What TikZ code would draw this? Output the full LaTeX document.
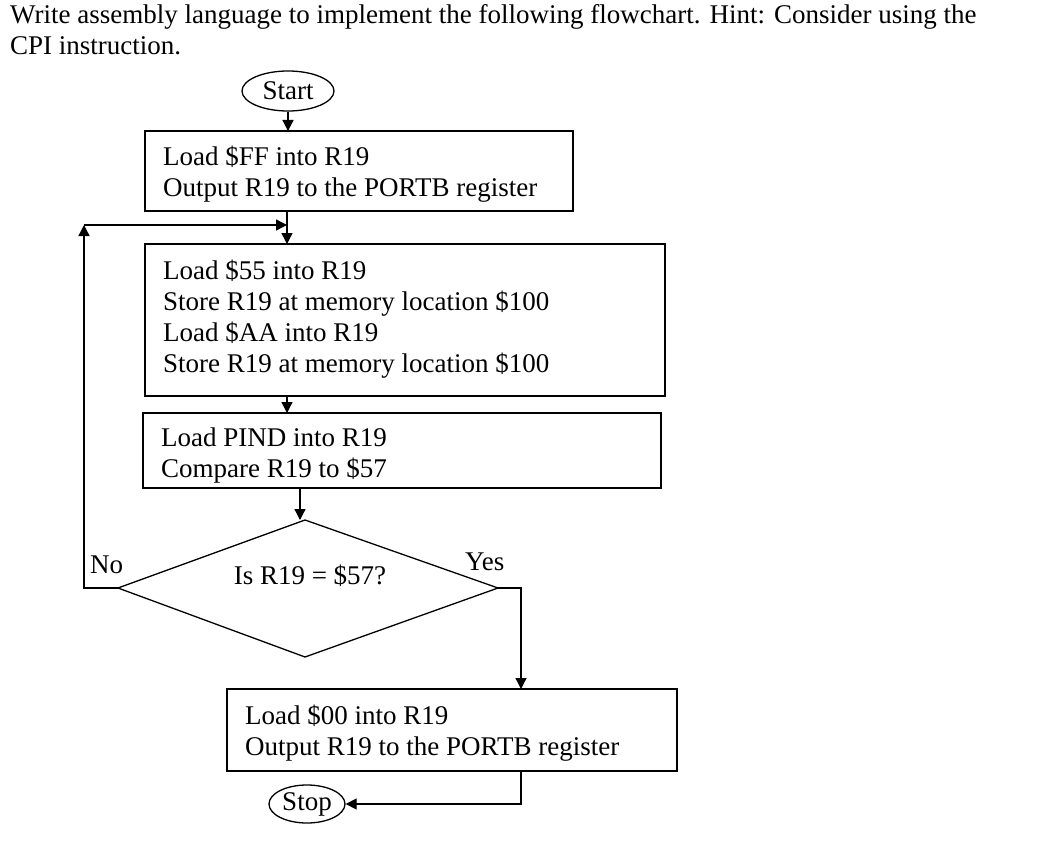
\documentclass[tikz,border=0pt]{standalone}
\usepackage{fontspec}
\setmainfont{Liberation Serif}
\usetikzlibrary{shapes.geometric,arrows.meta}
\begin{document}
\begin{tikzpicture}[x=1pt,y=-1pt,
  every node/.style={font=\fontsize{27}{31}\selectfont},
  box/.style={draw,line width=1.3pt},
  txt/.style={anchor=west,align=left,inner sep=0pt},
  arr/.style={line width=1.3pt,-{Triangle[length=11pt,width=11pt]}},
  ln/.style={line width=1.3pt}]
\useasboundingbox (0,0) rectangle (1050,864);
\node[txt,anchor=north west] (title) at (10,4) {Write assembly language to implement the following flowchart. Hint: Consider using the\\CPI instruction.};
\node[draw,ellipse,line width=1.3pt,minimum width=92,minimum height=40,inner sep=1pt] (start) at (288,91) {Start};
\draw[box] (145,131) rectangle (573,211);
\node[txt] (b1) at (163,174) {Load \$FF into R19\\Output R19 to the PORTB register};
\coordinate (b1t) at (288,131); \coordinate (b1b) at (287,211);
\draw[box] (145,244) rectangle (665,396);
\node[txt] (b2) at (163,319) {Load \$55 into R19\\Store R19 at memory location \$100\\Load \$AA into R19\\Store R19 at memory location \$100};
\coordinate (b2t) at (287,244); \coordinate (b2b) at (287,396);
\draw[box] (143,413) rectangle (661,488);
\node[txt] (b3) at (161,456) {Load PIND into R19\\Compare R19 to \$57};
\coordinate (b3t) at (287,413); \coordinate (b3b) at (300,488);
\draw[box] (305,520) -- (498,588) -- (305,657) -- (118,588) -- cycle;
\coordinate (dt) at (300,520); \coordinate (dl) at (118,588); \coordinate (dr) at (498,588);
\node (dq) at (310,576) {Is R19 = \$57?};
\draw[box] (227,689) rectangle (677,771);
\node[txt] (b4) at (245,733) {Load \$00 into R19\\Output R19 to the PORTB register};
\coordinate (b4t) at (521,689); \coordinate (b4b) at (521,771);
\node[draw,ellipse,line width=1.3pt,minimum width=76,minimum height=38,inner sep=1pt] (stop) at (307,804) {Stop};
\draw[arr] (start.south) -- (b1t);
\draw[arr] (b1b) -- (b2t);
\draw[arr] (b2b) -- (b3t);
\draw[arr] (b3b) -- (dt);
\coordinate (nl) at (84,588); \coordinate (nt) at (84,225); \coordinate (nr) at (287,225);
\draw[arr] (dl) -- (nl) -- (nt);
\draw[arr] (nt) -- (nr);
\node[txt] (no) at (90,565) {No};
\node[txt] (yes) at (465,562) {Yes};
\coordinate (yc) at (521,588);
\draw[arr] (dr) -- (yc) -- (b4t);
\coordinate (sc) at (521,804);
\draw[arr] (b4b) -- (sc) -- (stop.east);
\end{tikzpicture}
\end{document}
